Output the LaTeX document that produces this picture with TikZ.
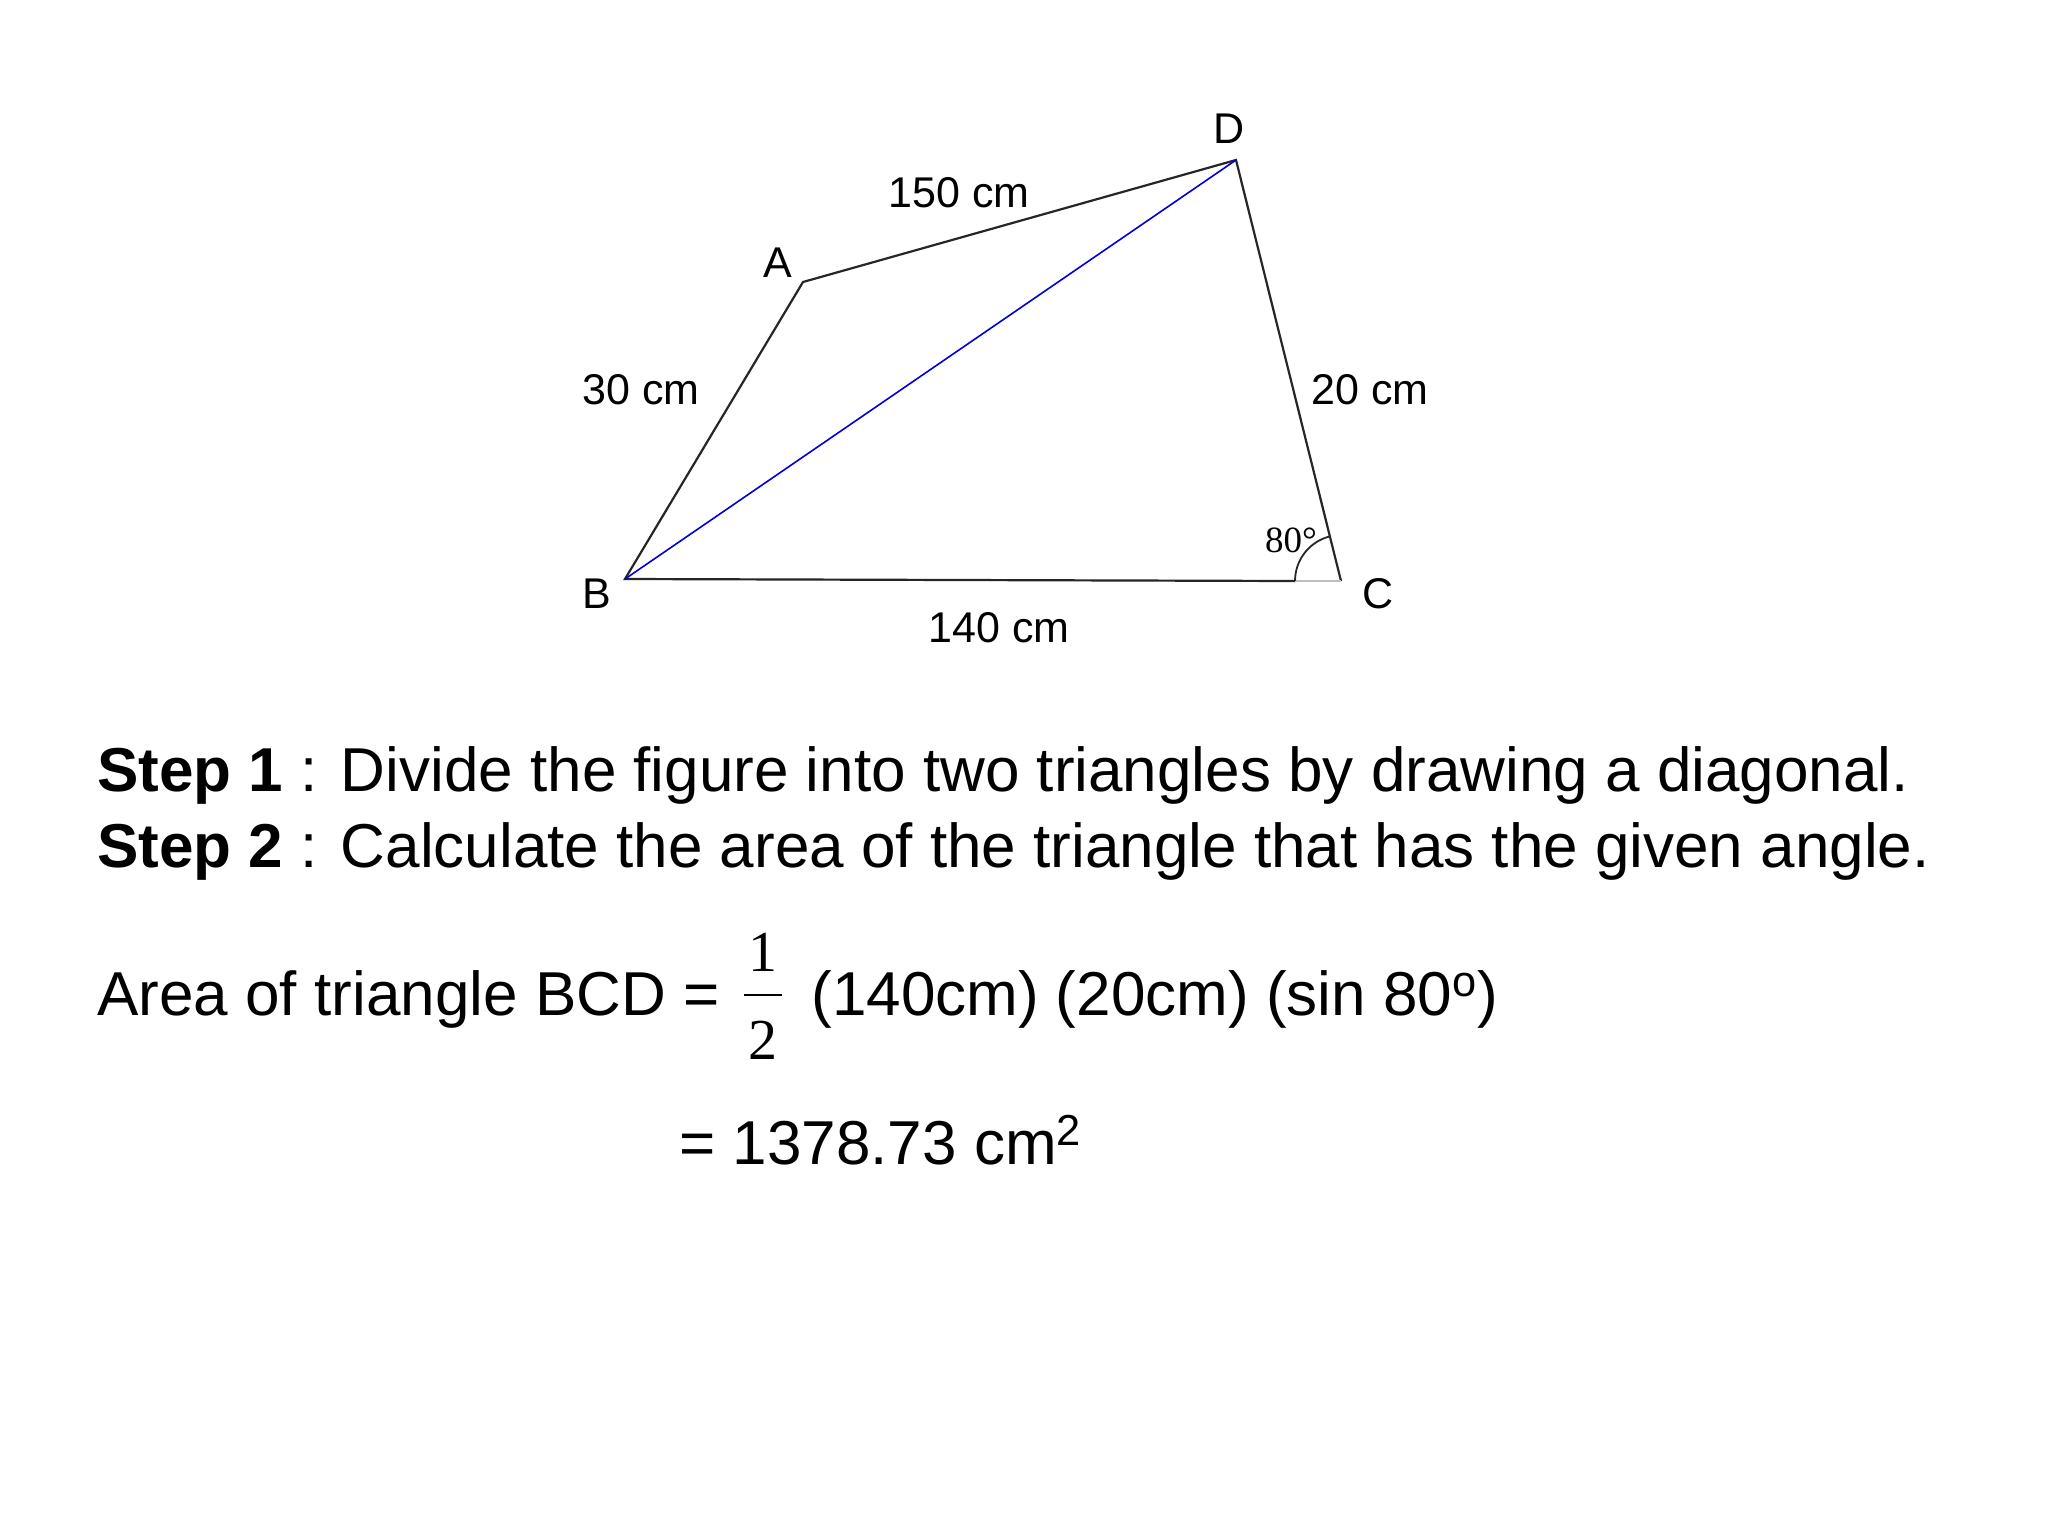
\documentclass[tikz,border=0pt]{standalone}
\usepackage{fontspec}
\setmainfont{Liberation Sans}
\newfontfamily\serifdig{Liberation Serif}
\usetikzlibrary{angles}
\begin{document}
\begin{tikzpicture}[x=0.5pt,y=-0.5pt,
  edge/.style={draw=black!85, line width=1.1pt},
  faint/.style={draw=black!25, line width=1pt},
  diag/.style={draw=blue!85!black, line width=0.8pt},
  lbl/.style={font=\fontsize{21.5}{24}\selectfont, inner sep=0pt},
  txt/.style={font=\fontsize{31}{36}\selectfont, inner sep=0pt, anchor=base west},
  frac/.style={font=\serifdig\fontsize{29}{34}\selectfont, inner sep=0pt},
]
\useasboundingbox[fill=white] (0,0) rectangle (2048,1536);
% vertices
\coordinate (A) at (803,282);
\coordinate (B) at (625,579);
\coordinate (C) at (1341,581);
\coordinate (D) at (1236,160);
\coordinate (Ca) at (1295,581);
% sides
\draw[edge, line join=miter] (Ca) -- (B) -- (A) -- (D) -- (C);
\draw[faint] (Ca) -- (C);
\draw[diag] (B) -- (D);
\pic[draw=black!85, line width=0.9pt, angle radius=23pt] {angle = D--C--B};
% labels
\node[lbl] (lD) at (1229,129) {D};
\node[lbl] (lA) at (778,263) {A};
\node[lbl] (lB) at (597,594) {B};
\node[lbl] (lC) at (1378,594) {C};
\node[lbl] (l150) at (959,193) {150 cm};
\node[lbl] (l30) at (641,390) {30 cm};
\node[lbl] (l20) at (1370,390) {20 cm};
\node[lbl] (l140) at (999,628) {140 cm};
\node[font=\serifdig\fontsize{18.5}{20}\selectfont, inner sep=0pt] (lang) at (1291,540) {80°};
% text
\node[txt] (s1) at (97,791) {\textbf{Step 1} : Divide the figure into two triangles by drawing a diagonal.};
\node[txt] (s2) at (97,867) {\textbf{Step 2} : Calculate the area of the triangle that has the given angle.};
\node[txt] (f1) at (97,1015) {Area of triangle BCD =};
\node[frac] (num) at (763,952) {1};
\node[frac] (den) at (763,1040) {2};
\draw[line width=0.6pt] (744,995) -- (782,995);
\node[txt] (f2) at (811,1015) {(140cm) (20cm) (sin 80\textsuperscript{o})};
\node[txt] (f3) at (679,1164) {= 1378.73 cm\textsuperscript{2}};
\end{tikzpicture}
\end{document}
